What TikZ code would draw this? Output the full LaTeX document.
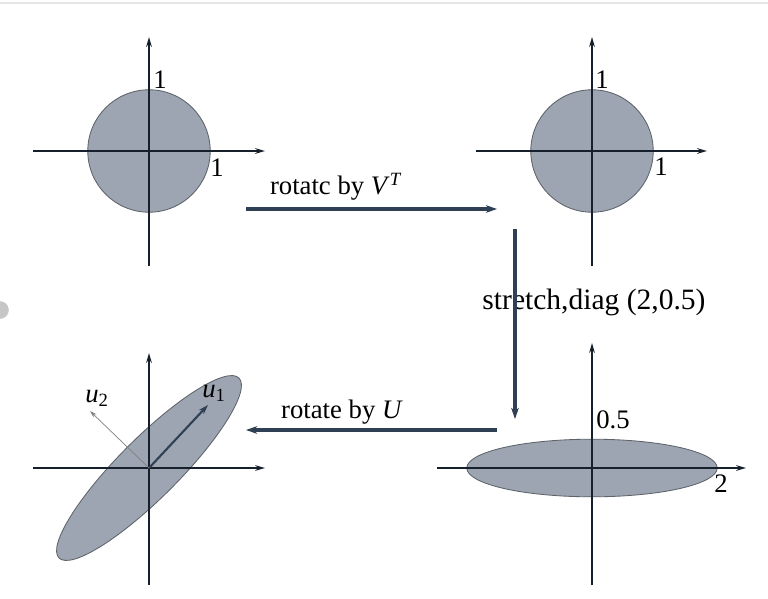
\documentclass[tikz,border=0pt]{standalone}
\usepackage{fontspec}
\setmainfont{Liberation Serif}
\usetikzlibrary{arrows.meta}

\definecolor{diskfill}{RGB}{156,165,177}
\definecolor{axiscol}{RGB}{22,32,44}
\definecolor{arrowcol}{RGB}{48,64,84}

\tikzset{
  axis/.style={line width=2.1pt, axiscol, -{Stealth[length=7pt,width=4pt]}},
  disk/.style={fill=diskfill, draw=diskfill!60!black, line width=0.6pt},
  maparrow/.style={line width=2.3pt, arrowcol, -{Stealth[length=8pt,width=5.5pt]}},
  lbl/.style={font=\fontsize{19}{22}\selectfont, inner sep=0pt},
}

\begin{document}
\begin{tikzpicture}[x=0.025cm, y=-0.025cm]
    \useasboundingbox (0,0) rectangle (768,598);
    \fill[white] (0,0) rectangle (768,598);
    % screenshot edges
    \draw[gray!20, line width=0.8pt] (0,3) -- (768,3);
    \fill[gray!45] (0,310) circle (0.22cm);

    % origins
    \coordinate (o1) at (149,151);
    \coordinate (o2) at (592,151);
    \coordinate (o3) at (592,468);
    \coordinate (o4) at (149,468);

    % Panel 1: unit circle
    \draw[disk] (o1) circle (1.53cm);
    \draw[axis] (33,151) -- (265,151);
    \draw[axis] (149,266) -- (149,37);
    \node[lbl] (l1y) at (160,80) {1};
    \node[lbl] (l1x) at (217,168) {1};

    % Panel 2: unit circle
    \draw[disk] (o2) circle (1.53cm);
    \draw[axis] (476,151) -- (707,151);
    \draw[axis] (592,266) -- (592,37);
    \node[lbl] (l2y) at (602,80) {1};
    \node[lbl] (l2x) at (661,167) {1};

    % Panel 3: stretched ellipse
    \draw[disk] (o3) ellipse [x radius=3.13cm, y radius=0.72cm];
    \draw[axis] (437,468) -- (746,468);
    \draw[axis] (592,585) -- (592,343);
    \node[lbl] (l3y) at (613,420) {0.5};
    \node[lbl] (l3x) at (721,484) {2};

    % Panel 4: rotated ellipse
    \draw[disk, rotate around={45:(o4)}] (o4) ellipse [x radius=3.18cm, y radius=0.75cm];
    \draw[axis] (33,468) -- (265,468);
    \draw[axis] (149,585) -- (149,353);
    \coordinate (u1tip) at (208,405);
    \coordinate (u2tip) at (90,411);
    \draw[line width=1.5pt, arrowcol, -{Stealth[length=7pt,width=4.5pt]}] (o4) -- (u1tip);
    \draw[line width=0.5pt, gray, -{Stealth[length=5pt,width=3pt]}] (o4) -- (u2tip);
    \node[lbl] (u1) at (214,393) {\textit{u}\textsubscript{1}};
    \node[lbl] (u2) at (97,398) {\textit{u}\textsubscript{2}};

    % Maps between panels
    \coordinate (a1s) at (246,209);
    \coordinate (a1e) at (497,209);
    \coordinate (a2s) at (515,229);
    \coordinate (a2e) at (515,419);
    \coordinate (a3s) at (497,430);
    \coordinate (a3e) at (246,430);
    \node[lbl] (rotV) at (336,187) {rotatc by \textit{V}\textsuperscript{\textit{T}}};
    \node[lbl, font=\fontsize{21}{24}\selectfont] (stretch) at (594,302) {stretch,diag (2,0.5)};
    \node[lbl] (rotU) at (342,412) {rotate by \textit{U}};
    \draw[maparrow] (a1s) -- (a1e);
    \draw[maparrow] (a2s) -- (a2e);
    \draw[maparrow] (a3s) -- (a3e);
\end{tikzpicture}
\end{document}
